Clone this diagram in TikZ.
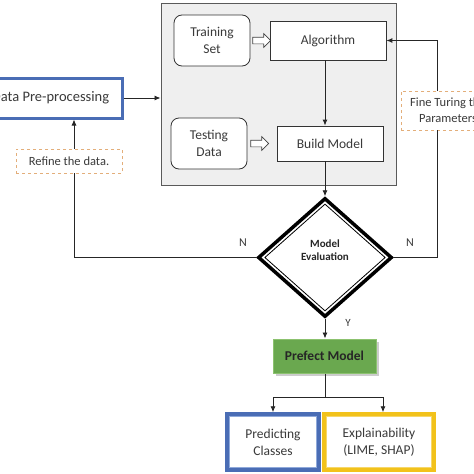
\documentclass[tikz,border=0pt]{standalone}
\usepackage{fontspec}
\setmainfont{Carlito}
\usetikzlibrary{arrows.meta,shapes.geometric,shapes.arrows,shadows,calc}
\definecolor{txt}{HTML}{3A3A3A}
\definecolor{graybg}{HTML}{EFEFEF}
\definecolor{grayedge}{HTML}{5A5A5A}
\definecolor{bluedge}{HTML}{4A6DB5}
\definecolor{bluelight}{HTML}{8FA9DA}
\definecolor{orng}{HTML}{E3AE7A}
\definecolor{yell}{HTML}{F2C21B}
\definecolor{yelllight}{HTML}{F6D76A}
\definecolor{grn}{HTML}{6AA84F}
\definecolor{grnedge}{HTML}{8CC26F}
\tikzset{
  base/.style={text=txt, align=center, inner sep=0pt, font=\fontsize{13.5}{17}\selectfont},
  softbox/.style={base, draw=black!80, line width=0.8pt, rounded corners=8pt, fill=white},
  plainbox/.style={base, draw=black!80, line width=0.8pt, fill=white},
  dashbox/.style={base, draw=orng, dashed, line width=0.9pt, fill=white, font=\fontsize{12.5}{16}\selectfont},
  fat/.style={single arrow, draw=black!75, fill=white, line width=0.7pt, inner sep=3pt,
    single arrow head extend=3.5pt, minimum height=18pt},
  conn/.style={draw=black!85, line width=0.9pt},
  arr/.style={conn, -{Latex[length=6pt,width=5pt]}},
  lbl/.style={text=txt, font=\fontsize{12}{14}\selectfont, inner sep=0pt}
}
\begin{document}
\begin{tikzpicture}[x=1pt,y=-1pt]
\useasboundingbox (0,0) rectangle (474,474);
\clip (0,0) rectangle (474,474);
\fill[white] (0,0) rectangle (474,474);

% container
\node[draw=grayedge, fill=graybg, line width=1pt, minimum width=235pt, minimum height=182pt, inner sep=0pt] (grp) at (278.5,94) {};

\node[softbox, minimum width=76pt, minimum height=51pt] (ts) at (212,40.5) {Training\\Set};
\node[softbox, minimum width=76pt, minimum height=51pt] (td) at (209,143.5) {Testing\\Data};
\node[plainbox, minimum width=116pt, minimum height=39pt] (alg) at (328,40.5) {Algorithm};
\node[plainbox, minimum width=106pt, minimum height=35pt] (bm) at (330,143.5) {Build Model};

\node[fat] (fa1) at ($(ts.east)!0.5!(alg.west)$) {};
\node[fat] (fa2) at (258,143.5) {};

% pre-processing
\node[base, draw=bluedge, line width=3pt, fill=white, minimum width=143pt, minimum height=40pt,
  font=\fontsize{14.5}{17}\selectfont] (dpp) at (50.5,98) {Data Pre-processing};
\node[dashbox, minimum width=106pt, minimum height=24pt] (refine) at (69,161) {Refine the data.};
\node[dashbox, minimum width=94pt, minimum height=39pt] (fine) at (448,110.5) {Fine Turing the\\Parameters};

% diamond
\node[diamond, draw=black, line width=3.5pt, fill=white, minimum width=134pt, minimum height=119pt, inner sep=0pt] (dia) at (325,257.5) {};
\node[diamond, draw=black, line width=0.8pt, minimum width=120.5pt, minimum height=107pt, inner sep=0pt] (diain) at (325,257.5) {};
\node[align=center, inner sep=0pt, font=\bfseries\fontsize{11}{13}\selectfont, text=black!85] (diat) at (325,250) {Model\\Evaluation};

\node[lbl] (nl) at (243,243) {N};
\node[lbl] (nr) at (410,243) {N};
\node[lbl, font=\fontsize{11}{13}\selectfont] (yl) at (348,323) {Y};

% prefect model
\node[base, fill=grn, draw=grnedge, line width=1pt, minimum width=103pt, minimum height=34pt,
  text=black!85, font=\bfseries\fontsize{13.5}{17}\selectfont,
  drop shadow={shadow xshift=3pt, shadow yshift=-3pt, fill=black!20, opacity=1}] (pm) at (324.5,356) {Prefect Model};

% outputs
\node[base, draw=bluedge, line width=3.5pt, fill=white, minimum width=92pt, minimum height=56pt] (pc) at (273,442) {Predicting\\Classes};
\draw[bluelight, line width=0.8pt] ($(pc.south west)+(4.5,-4.5)$) rectangle ($(pc.north east)+(-4.5,4.5)$);
\node[base, draw=yell, line width=3.5pt, fill=white, minimum width=110pt, minimum height=56pt] (ex) at (379,442) {Explainability\\(LIME, SHAP)};
\draw[yelllight, line width=0.8pt] ($(ex.south west)+(4.5,-4.5)$) rectangle ($(ex.north east)+(-4.5,4.5)$);

% connectors
\coordinate (lx) at (74,257.5);
\coordinate (rx) at (437,257.5);
\coordinate (br) at (325,397);

\draw[arr] (dpp.east) -- (dpp.east -| grp.west);
\draw[arr] (alg.south -| dia.north) -- (bm.north -| dia.north);
\draw[arr] (bm.south -| dia.north) -- (dia.north);
\draw[conn] (dia.west) -- (lx) -- (lx |- refine.south);
\draw[arr] (lx |- refine.north) -- (lx |- dpp.south);
\draw[conn] (dia.east) -- (rx) -- (rx |- fine.south);
\draw[arr] (rx |- fine.north) -- (rx |- alg.east) -- (alg.east);
\draw[arr] (dia.south) -- (dia.south |- pm.north);
\draw[conn] (pm.south -| br) -- (br);
\draw[arr] (br) -| (pc.north);
\draw[arr] (br) -| ($(ex.north)+(4,0)$);
\end{tikzpicture}
\end{document}
